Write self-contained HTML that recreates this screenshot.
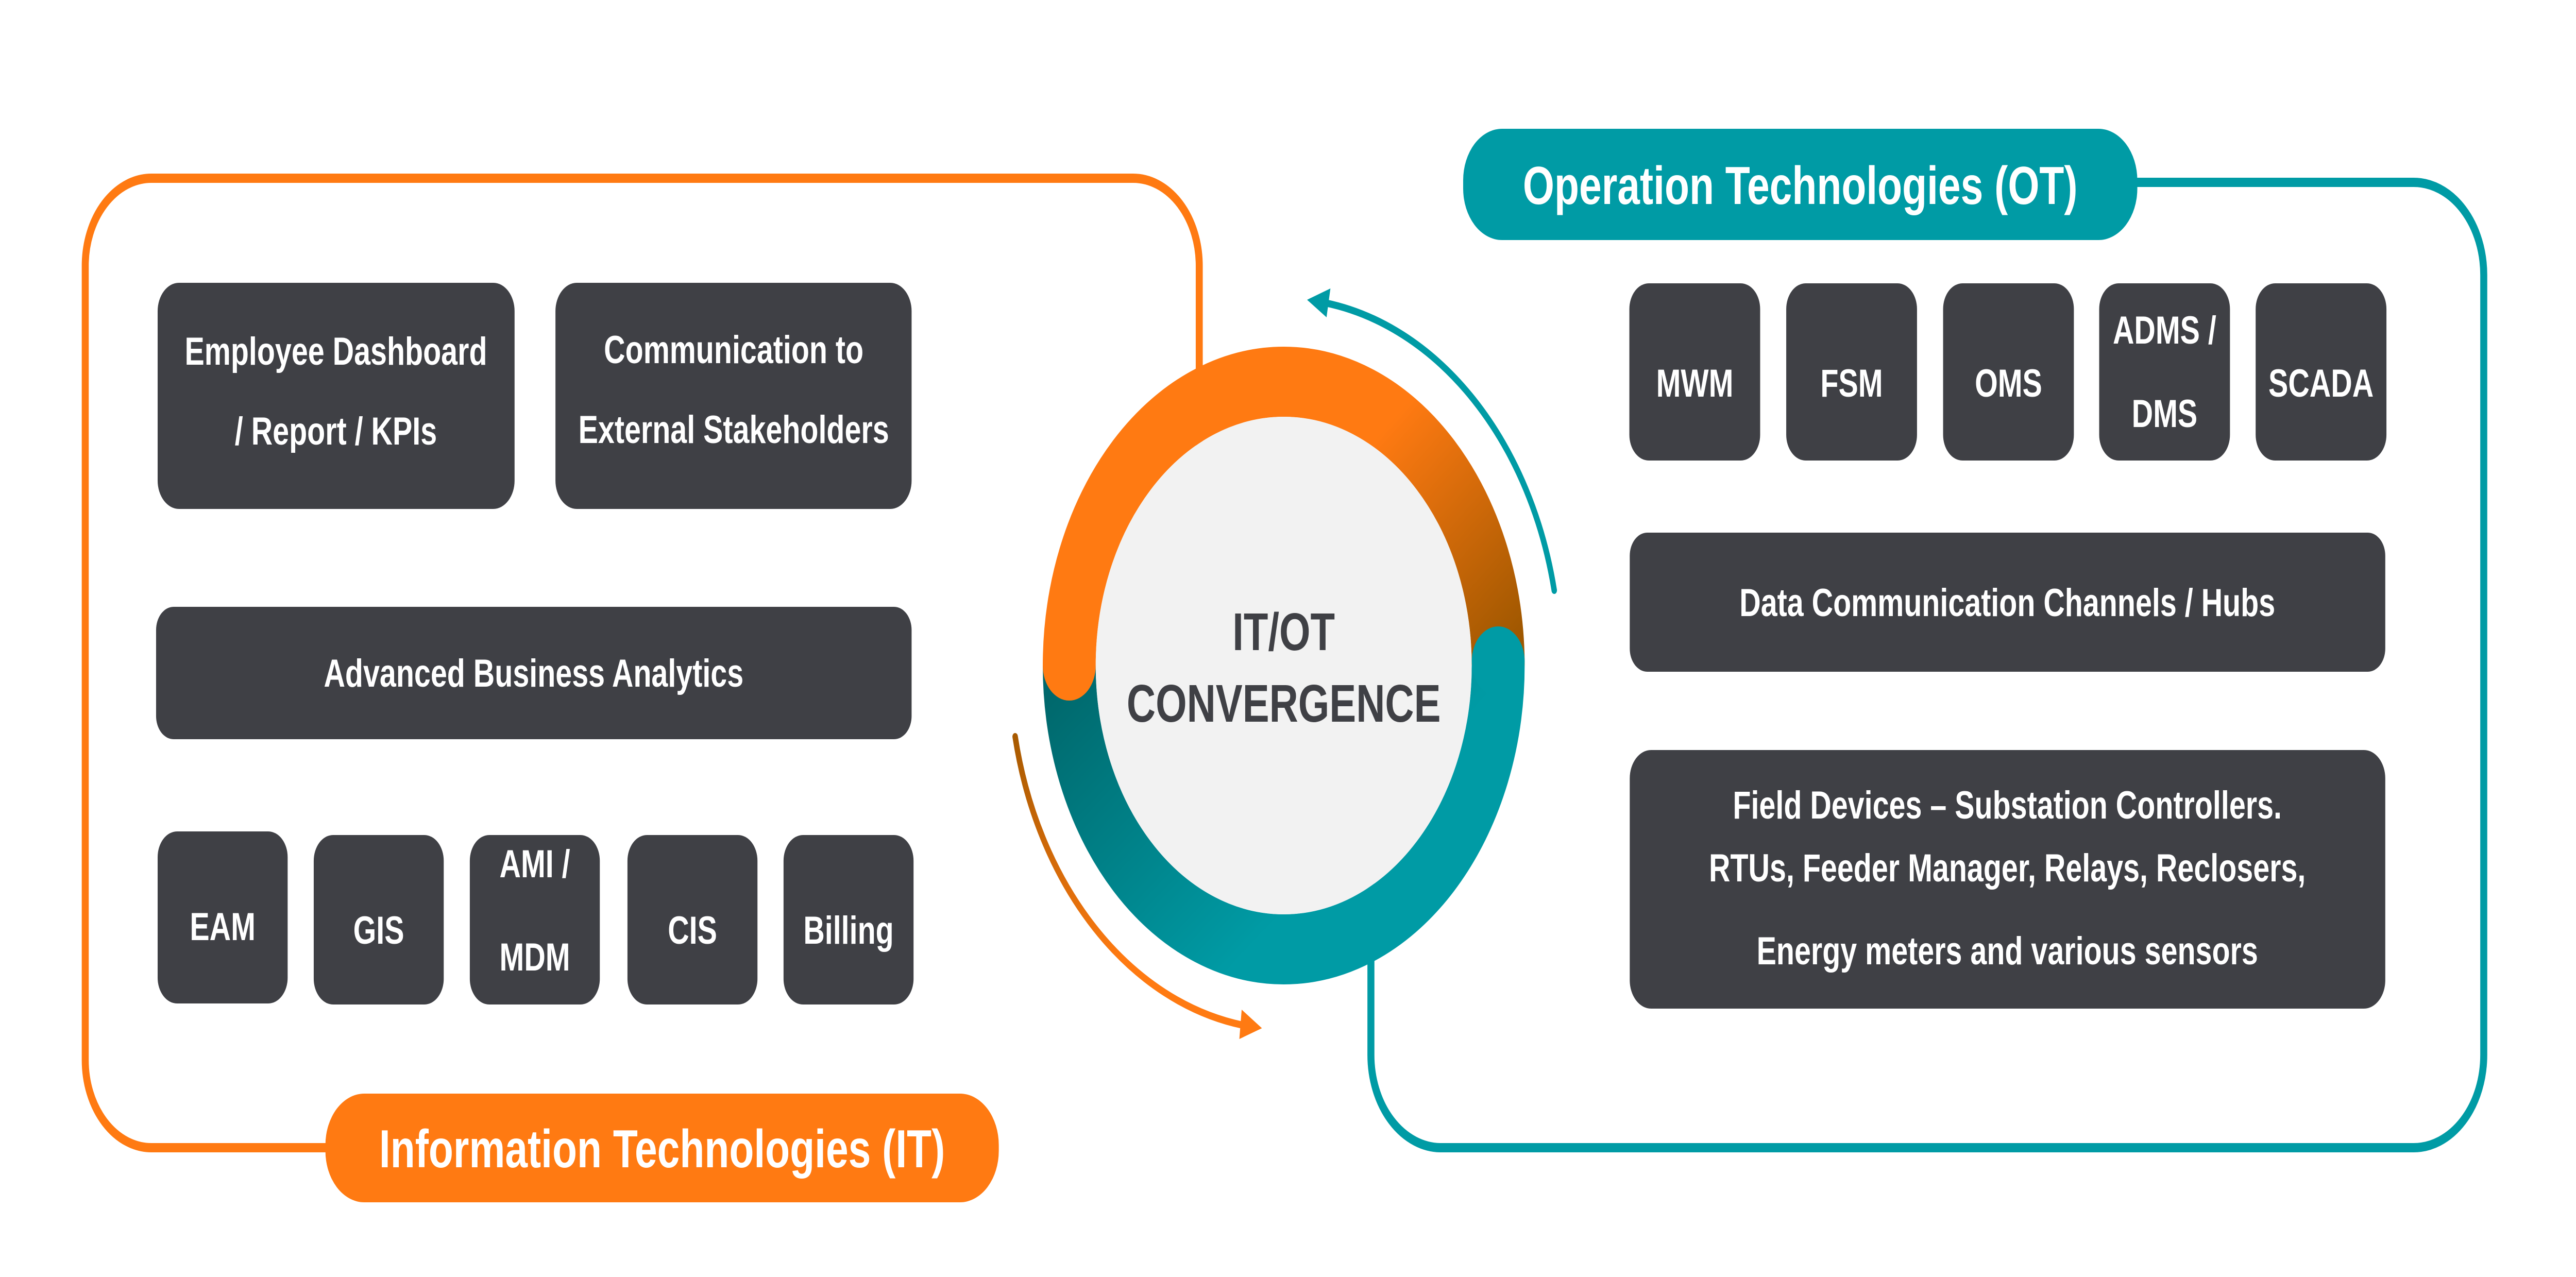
<!DOCTYPE html>
<html><head><meta charset="utf-8"><style>
html,body{margin:0;padding:0;background:#fff;overflow:hidden;width:100%;height:100%;}
svg{display:block;width:100vw;height:100vh;}
text{font-family:"Liberation Sans",Arial,sans-serif;font-weight:bold;}
</style></head><body>
<svg viewBox="0 0 6618 2479" preserveAspectRatio="none" xmlns="http://www.w3.org/2000/svg">
<defs>
<linearGradient id="og" gradientUnits="userSpaceOnUse" x1="3500" y1="880" x2="3850" y2="1290">
<stop offset="0" stop-color="#ff7a12"/><stop offset="1" stop-color="#9e5700"/></linearGradient>
<linearGradient id="tg" gradientUnits="userSpaceOnUse" x1="2760" y1="1300" x2="3200" y2="1850">
<stop offset="0" stop-color="#00686c"/><stop offset="1" stop-color="#009ba5"/></linearGradient>
<linearGradient id="ag" gradientUnits="userSpaceOnUse" x1="2610" y1="1430" x2="2900" y2="1850">
<stop offset="0" stop-color="#a85a00"/><stop offset="1" stop-color="#ff7a12"/></linearGradient>
</defs>

<path d="M 900 2228 L 389 2228 A 170 170 0 0 1 219 2058 L 219 516 A 170 170 0 0 1 389 346 L 2911 346 A 170 170 0 0 1 3081 516 L 3081 900" fill="none" stroke="#ff7a12" stroke-width="18"/>
<path d="M 5450 354 L 6201 354 A 180 180 0 0 1 6381 534 L 6381 2048 A 180 180 0 0 1 6201 2228 L 3702 2228 A 180 180 0 0 1 3522 2048 L 3522 1700" fill="none" stroke="#009ba5" stroke-width="18"/>

<rect x="836" y="2123" width="1730" height="211" rx="100" fill="#ff7a12"/>
<text x="1701" y="2266" font-size="104" fill="#fff" text-anchor="middle">Information Technologies (IT)</text>
<rect x="3759" y="250" width="1732" height="216" rx="100" fill="#009ba5"/>
<text x="4625" y="396" font-size="104" fill="#fff" text-anchor="middle">Operation Technologies (OT)</text>

<g fill="#3f4045">
<rect x="405" y="549" width="917" height="439" rx="55"/>
<rect x="1427" y="549" width="915" height="439" rx="55"/>
<rect x="401" y="1178" width="1941" height="257" rx="45"/>
<rect x="405" y="1614" width="334" height="334" rx="50"/>
<rect x="806" y="1621" width="334" height="329" rx="50"/>
<rect x="1207" y="1621" width="334" height="329" rx="50"/>
<rect x="1612" y="1621" width="334" height="329" rx="50"/>
<rect x="2013" y="1621" width="334" height="329" rx="50"/>
<rect x="4186" y="550" width="336" height="344" rx="50"/>
<rect x="4589" y="550" width="336" height="344" rx="50"/>
<rect x="4992" y="550" width="336" height="344" rx="50"/>
<rect x="5393" y="550" width="336" height="344" rx="50"/>
<rect x="5795" y="550" width="336" height="344" rx="50"/>
<rect x="4187" y="1034" width="1941" height="270" rx="45"/>
<rect x="4187" y="1456" width="1941" height="502" rx="55"/>
</g>
<g fill="#fff" font-size="76" text-anchor="middle">
<text x="863" y="708">Employee Dashboard</text>
<text x="863" y="863">/ Report / KPIs</text>
<text x="1885" y="705">Communication to</text>
<text x="1885" y="860">External Stakeholders</text>
<text x="1371" y="1333">Advanced Business Analytics</text>
<text x="572" y="1825">EAM</text>
<text x="973" y="1832">GIS</text>
<text x="1374" y="1703">AMI /</text>
<text x="1374" y="1884">MDM</text>
<text x="1779" y="1832">CIS</text>
<text x="2180" y="1832">Billing</text>
<text x="4354" y="770">MWM</text>
<text x="4757" y="770">FSM</text>
<text x="5160" y="770">OMS</text>
<text x="5561" y="667">ADMS /</text>
<text x="5561" y="829">DMS</text>
<text x="5963" y="770">SCADA</text>
<text x="5157" y="1196">Data Communication Channels / Hubs</text>
<text x="5157" y="1589">Field Devices – Substation Controllers.</text>
<text x="5157" y="1711">RTUs, Feeder Manager, Relays, Reclosers,</text>
<text x="5157" y="1872">Energy meters and various sensors</text>
</g>

<path d="M 2747 1292 A 551 551 0 0 1 3849 1292" fill="none" stroke="url(#og)" stroke-width="136"/>
<path d="M 2747 1292 A 551 551 0 0 0 3849 1292" fill="none" stroke="url(#tg)" stroke-width="136"/>
<circle cx="2747" cy="1292" r="68" fill="#ff7a12"/>
<circle cx="3849" cy="1284" r="68" fill="#009ba5"/>
<circle cx="3298" cy="1292" r="483" fill="#f2f2f2"/>
<text x="3298" y="1262" font-size="103" fill="#3f4045" text-anchor="middle">IT/OT</text>
<text x="3298" y="1401" font-size="103" fill="#3f4045" text-anchor="middle">CONVERGENCE</text>

<path d="M 3993 1146 A 715 715 0 0 0 3405 588" fill="none" stroke="#009ba5" stroke-width="14" stroke-linecap="round"/>
<polygon points="3358,582 3418,560 3408,616" fill="#009ba5"/>
<path d="M 2608 1430 A 710 710 0 0 0 3192 1990" fill="none" stroke="url(#ag)" stroke-width="14" stroke-linecap="round"/>
<polygon points="3242,1996 3190,1960 3184,2017" fill="#ff7a12"/>
</svg>
</body></html>
